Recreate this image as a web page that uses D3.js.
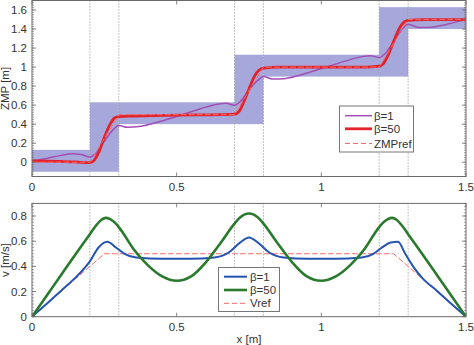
<!DOCTYPE html>
<html><head><meta charset="utf-8">
<script src="https://cdn.jsdelivr.net/npm/d3@7"></script>
<style>
html,body{margin:0;padding:0;background:#fff;}
svg{display:block;font-family:"Liberation Sans",Arial,sans-serif;}
</style></head>
<body>
<svg id="chart" width="474" height="345"></svg>
<script>
// ---------- data ----------
const xTicks = [0, 0.5, 1, 1.5];
const zmpTicks = [0, 0.2, 0.4, 0.6, 0.8, 1, 1.2, 1.4, 1.6];
const vTicks = [0, 0.2, 0.4, 0.6, 0.8];
const stepLines = [0.2, 0.3, 0.7, 0.8, 1.2, 1.3];

// support polygon regions: [x0, x1, y0, y1]
const supportRects = [
  [0, 0.2, -0.1, 0.13],
  [0.2, 0.3, -0.1, 0.63],
  [0.3, 0.7, 0.4, 0.63],
  [0.7, 0.8, 0.4, 1.13],
  [0.8, 1.2, 0.9, 1.13],
  [1.2, 1.3, 0.9, 1.63],
  [1.3, 1.5, 1.4, 1.63]
];

const zmpRef = [[0,0],[0.2,0],[0.3,0.5],[0.7,0.5],[0.8,1.0],[1.2,1.0],[1.3,1.5],[1.5,1.5]];

const zmpBeta1 = [[0,0.015],[0.05,0.04],[0.1,0.072],[0.14,0.088],[0.17,0.082],[0.2,0.055],[0.22,0.09],
  [0.25,0.22],[0.28,0.34],[0.3,0.385],[0.33,0.368],[0.37,0.375],[0.42,0.41],[0.5,0.48],[0.58,0.56],
  [0.64,0.61],[0.67,0.62],[0.7,0.6],[0.72,0.64],[0.75,0.76],[0.78,0.86],[0.8,0.9],[0.83,0.875],
  [0.87,0.878],[0.92,0.91],[1.0,0.985],[1.08,1.06],[1.14,1.11],[1.17,1.12],[1.2,1.1],[1.22,1.14],
  [1.25,1.27],[1.28,1.4],[1.3,1.45],[1.34,1.415],[1.38,1.418],[1.42,1.44],[1.46,1.47],[1.5,1.5]];

const zmpBeta50 = [[0,0.015],[0.05,0.012],[0.1,0.008],[0.15,0.003],[0.2,-0.005],[0.215,0.02],[0.23,0.1],
  [0.25,0.26],[0.27,0.4],[0.285,0.465],[0.3,0.48],[0.35,0.485],[0.5,0.495],[0.65,0.5],[0.7,0.505],
  [0.715,0.53],[0.73,0.62],[0.75,0.77],[0.77,0.91],[0.785,0.97],[0.8,0.99],[0.85,1.0],[1.0,1.0],
  [1.15,1.0],[1.2,1.01],[1.215,1.04],[1.23,1.12],[1.25,1.27],[1.27,1.41],[1.285,1.47],[1.3,1.49],
  [1.35,1.5],[1.5,1.5]];

const vRef = [[0,0],[0.25,0.5],[1.25,0.5],[1.5,0]];

const vBeta1 = [[0,0],[0.05,0.1],[0.1,0.205],[0.15,0.31],[0.2,0.44],[0.23,0.55],[0.26,0.595],
  [0.29,0.55],[0.32,0.5],[0.36,0.47],[0.45,0.46],[0.55,0.46],[0.63,0.47],[0.68,0.51],[0.72,0.59],
  [0.75,0.63],[0.78,0.59],[0.82,0.51],[0.87,0.47],[0.95,0.46],[1.05,0.46],[1.14,0.47],[1.18,0.5],
  [1.21,0.55],[1.24,0.59],[1.265,0.595],[1.29,0.5],[1.32,0.39],[1.35,0.305],[1.4,0.205],[1.45,0.1],[1.5,0]];

const vBeta50 = [[0,0],[0.05,0.165],[0.1,0.33],[0.15,0.495],[0.2,0.655],[0.22,0.72],[0.24,0.77],
  [0.255,0.785],[0.27,0.775],[0.29,0.74],[0.31,0.68],[0.35,0.54],[0.4,0.41],[0.45,0.32],[0.5,0.285],
  [0.55,0.32],[0.6,0.43],[0.65,0.58],[0.7,0.74],[0.72,0.79],[0.75,0.82],[0.78,0.79],[0.8,0.74],
  [0.85,0.58],[0.9,0.43],[0.95,0.32],[1.0,0.285],[1.05,0.32],[1.1,0.41],[1.15,0.54],[1.19,0.68],
  [1.21,0.74],[1.23,0.775],[1.245,0.785],[1.26,0.77],[1.28,0.72],[1.3,0.655],[1.35,0.495],
  [1.4,0.33],[1.45,0.165],[1.5,0]];

// ---------- drawing ----------
const svg = d3.select("#chart");
const L = 32, R = 466;
const axisCol = "#6a6a6a", textCol = "#333";
const fontSize = 11.5;

const x = d3.scaleLinear().domain([0, 1.5]).range([L, R]);
const yT = d3.scaleLinear().domain([-0.15, 1.7]).range([176.5, 0.5]);
const yB = d3.scaleLinear().domain([0, 0.9]).range([316.7, 203.4]);

function frame(g, y, yTicks, minorStep, top, bot) {
  const dom = y.domain();
  const minor = d3.range(Math.ceil(dom[0] / minorStep) * minorStep, dom[1] + 1e-9, minorStep);
  [[L, 2], [R, -2]].forEach(([x0, len]) => {
    g.selectAll(null).data(minor).enter().append("line")
      .attr("x1", x0).attr("x2", x0 + len).attr("y1", d => y(d)).attr("y2", d => y(d))
      .attr("stroke", axisCol).attr("stroke-width", 0.6);
  });
  [[L, 4], [R, -4]].forEach(([x0, len]) => {
    g.selectAll(null).data(yTicks).enter().append("line")
      .attr("x1", x0).attr("x2", x0 + len).attr("y1", d => y(d)).attr("y2", d => y(d))
      .attr("stroke", axisCol).attr("stroke-width", 0.8);
  });
  [[bot, -4], [top, 4]].forEach(([y0, len]) => {
    g.selectAll(null).data(xTicks).enter().append("line")
      .attr("x1", d => x(d)).attr("x2", d => x(d)).attr("y1", y0).attr("y2", y0 + len)
      .attr("stroke", axisCol).attr("stroke-width", 0.8);
  });
  g.append("rect").attr("x", L).attr("y", top).attr("width", R - L).attr("height", bot - top)
    .attr("fill", "none").attr("stroke", axisCol).attr("stroke-width", 1);
  g.selectAll(null).data(yTicks).enter().append("text")
    .attr("x", L - 5).attr("y", d => y(d)).attr("dy", "0.35em")
    .attr("text-anchor", "end").attr("font-size", fontSize).attr("fill", textCol)
    .text(d => d3.format("~g")(d));
  g.selectAll(null).data(xTicks).enter().append("text")
    .attr("x", d => x(d)).attr("y", bot + 14)
    .attr("text-anchor", "middle").attr("font-size", fontSize).attr("fill", textCol)
    .text(d => d3.format("~g")(d));
}

function dotted(g, top, bot) {
  g.selectAll(null).data(stepLines).enter().append("line")
    .attr("x1", d => x(d)).attr("x2", d => x(d)).attr("y1", top).attr("y2", bot)
    .attr("stroke", "#8a8a8a").attr("stroke-width", 1).attr("stroke-dasharray", "1,2");
}

function path(g, data, y, color, width, dash, curve) {
  const line = d3.line().x(d => x(d[0])).y(d => y(d[1])).curve(curve || d3.curveMonotoneX);
  g.append("path").datum(data).attr("d", line)
    .attr("fill", "none").attr("stroke", color).attr("stroke-width", width)
    .attr("stroke-linejoin", "round").attr("stroke-linecap", "round")
    .attr("stroke-dasharray", dash || null);
}

function legend(g, x0, y0, w, h, items) {
  g.append("rect").attr("x", x0).attr("y", y0).attr("width", w).attr("height", h)
    .attr("fill", "#fff").attr("stroke", "#777").attr("stroke-width", 1);
  items.forEach(it => {
    g.append("line").attr("x1", it.lx0).attr("x2", it.lx1).attr("y1", it.y).attr("y2", it.y)
      .attr("stroke", it.color).attr("stroke-width", it.width).attr("stroke-dasharray", it.dash || null);
    g.append("text").attr("x", it.tx).attr("y", it.y).attr("dy", "0.35em")
      .attr("font-size", fontSize).attr("fill", textCol).text(it.label);
  });
}

// ---- top panel ----
const topT = yT.range()[1], botT = yT.range()[0];
const gT = svg.append("g");
svg.append("clipPath").attr("id", "clipT").append("rect")
  .attr("x", L).attr("y", topT).attr("width", R - L).attr("height", botT - topT);
const gTd = gT.append("g").attr("clip-path", "url(#clipT)");
gTd.selectAll(null).data(supportRects).enter().append("rect")
  .attr("x", d => x(d[0])).attr("width", d => x(d[1]) - x(d[0]))
  .attr("y", d => yT(d[3])).attr("height", d => yT(d[2]) - yT(d[3]))
  .attr("fill", "#a6a8db");
dotted(gTd, topT, botT);
path(gTd, zmpBeta1, yT, "#a24fb5", 1.5);
path(gTd, zmpBeta50, yT, "#e3232c", 2.8);
path(gTd, zmpRef, yT, "#f06b6b", 1, "5,3", d3.curveLinear);
frame(gT, yT, zmpTicks, 0.025, topT, botT);
gT.append("text").attr("transform", `translate(9,${(topT + botT) / 2}) rotate(-90)`)
  .attr("text-anchor", "middle").attr("font-size", fontSize).attr("fill", textCol).text("ZMP [m]");
legend(gT, 339.5, 106, 74, 46, [
  {label: "β=1", color: "#a24fb5", width: 1.5, y: 115.7, lx0: 345, lx1: 372, tx: 374},
  {label: "β=50", color: "#e3232c", width: 2.8, y: 128.8, lx0: 345, lx1: 372, tx: 374},
  {label: "ZMPref", color: "#f06b6b", width: 1, dash: "5,3", y: 143.5, lx0: 345, lx1: 372, tx: 374}
]);

// ---- bottom panel ----
const topB = yB.range()[1], botB = yB.range()[0];
const gB = svg.append("g");
svg.append("clipPath").attr("id", "clipB").append("rect")
  .attr("x", L).attr("y", topB).attr("width", R - L).attr("height", botB - topB);
const gBd = gB.append("g").attr("clip-path", "url(#clipB)");
dotted(gBd, topB, botB);
path(gBd, vRef, yB, "#f06b6b", 1, "5,3", d3.curveLinear);
path(gBd, vBeta1, yB, "#2453b0", 2);
path(gBd, vBeta50, yB, "#2a7a2e", 2.6);
frame(gB, yB, vTicks, 0.025, topB, botB);
gB.append("text").attr("transform", `translate(9,${(topB + botB) / 2}) rotate(-90)`)
  .attr("text-anchor", "middle").attr("font-size", fontSize).attr("fill", textCol).text("v [m/s]");
gB.append("text").attr("x", (L + R) / 2).attr("y", 343)
  .attr("text-anchor", "middle").attr("font-size", fontSize).attr("fill", textCol).text("x [m]");
legend(gB, 218.5, 267.5, 61, 44, [
  {label: "β=1", color: "#2453b0", width: 2, y: 276.7, lx0: 224, lx1: 247, tx: 250},
  {label: "β=50", color: "#2a7a2e", width: 2.6, y: 290, lx0: 224, lx1: 247, tx: 250},
  {label: "Vref", color: "#f06b6b", width: 1, dash: "5,3", y: 303.3, lx0: 224, lx1: 247, tx: 250}
]);
</script>
</body></html>
